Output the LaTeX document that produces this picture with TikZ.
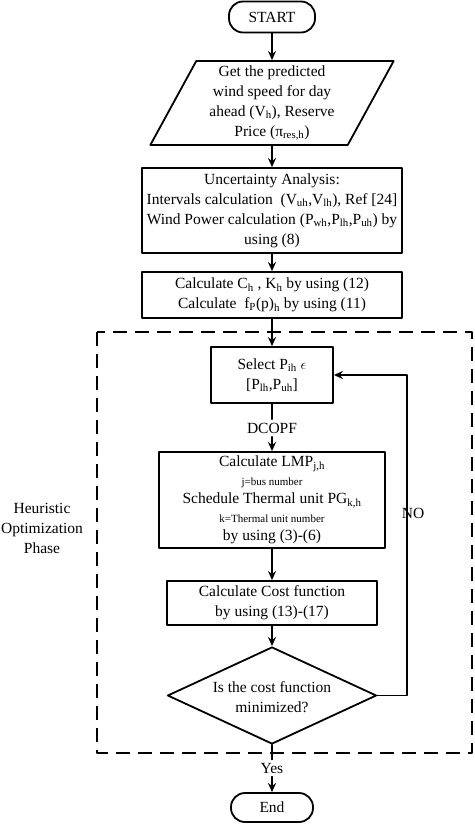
\documentclass[tikz,border=0pt]{standalone}
\usepackage{fontspec}
\setmainfont{Liberation Serif}
\usetikzlibrary{shapes.geometric,arrows.meta}
\newcommand{\sbs}[1]{\textsubscript{#1}}
\newcommand{\smalltxt}{\fontsize{11}{13}\selectfont}
\begin{document}
\begin{tikzpicture}[x=1pt,y=-1pt,font=\fontsize{15.5}{20}\selectfont,line join=round,line cap=round,
	>={Stealth[length=9pt,width=8pt]},
	box/.style={draw,line width=1.8pt,align=center,inner sep=1pt},
	term/.style={box,rounded corners=14pt,minimum width=86pt,minimum height=31pt},
	arr/.style={->,line width=1.8pt}]
		\useasboundingbox (0,0) rectangle (474,824);
		% blocks
		\node[term] (start) at (272,17) {START};
		\node[box,trapezium,trapezium left angle=63.4,trapezium right angle=116.6,trapezium stretches=true,
			minimum width=244pt,minimum height=84pt] (data) at (272,103)
			{Get the predicted\\wind speed for day\\ahead (V\sbs{h}), Reserve\\Price (π\sbs{res,h})};
		\node[box,minimum width=260pt,minimum height=85pt] (unc) at (272,210.5)
			{Uncertainty Analysis:\\Intervals calculation\ \ (V\sbs{uh},V\sbs{lh}), Ref [24]\\Wind Power calculation (P\sbs{wh},P\sbs{lh},P\sbs{uh}) by\\using (8)};
		\node[box,minimum width=260pt,minimum height=46pt] (calc) at (272,295)
			{Calculate C\sbs{h} , K\sbs{h} by using (12)\\Calculate\ \ f\sbs{P}(p)\sbs{h} by using (11)};
		\draw[line width=1.8pt,line cap=butt,dash pattern=on 14pt off 8pt] (97,332) rectangle (472,753);
		\node[box,minimum width=122pt,minimum height=56pt] (sel) at (272,375)
			{Select P\sbs{ih} $\epsilon$\\{[}P\sbs{lh},P\sbs{uh}]};
		\node (dcopf) at (272,428) {DCOPF};
		\node[box,minimum width=226pt,minimum height=96pt,font=\fontsize{15.5}{18.5}\selectfont] (lmp) at (272,500)
			{Calculate LMP\sbs{j,h}\\{\smalltxt j=bus number}\\Schedule Thermal unit PG\sbs{k,h}\\{\smalltxt k=Thermal unit number}\\by using (3)-(6)};
		\node[box,minimum width=210pt,minimum height=44pt] (cost) at (272,603)
			{Calculate Cost function\\by using (13)-(17)};
		\node[box,diamond,minimum width=209pt,minimum height=97pt,inner sep=0pt] (dec) at (272,695.5) {};
		\node[align=center] (dectxt) at (272,697) {Is the cost function\\minimized?};
		\node (yes) at (272,768) {Yes};
		\node[term,minimum width=82pt,minimum height=29pt] (end) at (272,807.5) {End};
		\node (no) at (413,513) {NO};
		\node[align=center] (phase) at (42,528) {Heuristic\\Optimization\\Phase};
		\coordinate (turn) at (407,695.5);
		% connectors
		\draw[arr] (start) -- (data);
		\draw[arr] (data) -- (unc);
		\draw[arr] (unc) -- (calc);
		\draw[arr] (calc) -- (sel);
		\draw[line width=1.8pt] (sel) -- (dcopf);
		\draw[arr] (dcopf) -- (lmp);
		\draw[arr] (lmp) -- (cost);
		\draw[arr] (cost) -- (dec);
		\draw[line width=1.8pt] (dec) -- (yes);
		\draw[arr] (yes) -- (end);
		\draw[arr] (dec.east) -- (turn) |- (sel.east);
		\end{tikzpicture}
\end{document}
